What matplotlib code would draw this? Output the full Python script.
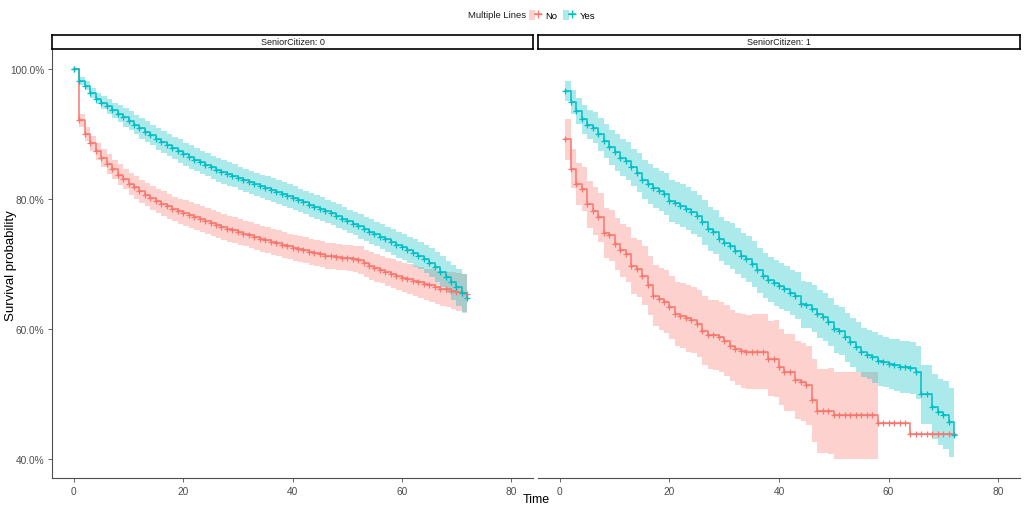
import numpy as np
import matplotlib
matplotlib.use("Agg")
import matplotlib.pyplot as plt
from matplotlib.patches import Patch
from matplotlib.lines import Line2D
from matplotlib.legend_handler import HandlerTuple
from matplotlib.ticker import FuncFormatter

plt.rcParams['font.family'] = ['Liberation Sans', 'DejaVu Sans']

# ---------------- data ----------------
legend_title = "Multiple Lines"
groups = ["No", "Yes"]
colors = {"No": "#F8766D", "Yes": "#00BFC4"}
panel_titles = ["SeniorCitizen: 0", "SeniorCitizen: 1"]
x_ticks = [0, 20, 40, 60, 80]
y_ticks = [40, 60, 80, 100]

# Panel SeniorCitizen: 0 (months 0..72)
time_s0 = list(range(0, 73))
surv_s0_yes = [100.0, 98.2, 97.5, 96.4, 95.5, 94.9, 94.3, 93.7, 93.2, 92.6,
               92.1, 91.5, 90.9, 90.4, 89.9, 89.3, 88.8, 88.3, 87.9, 87.4,
               86.9, 86.5, 86.1, 85.7, 85.3, 84.9, 84.5, 84.2, 83.9, 83.6,
               83.2, 82.9, 82.6, 82.3, 82.0, 81.7, 81.4, 81.1, 80.8, 80.5,
               80.2, 79.8, 79.5, 79.1, 78.8, 78.5, 78.1, 77.8, 77.4, 77.0,
               76.6, 76.2, 75.8, 75.4, 75.0, 74.6, 74.2, 73.8, 73.4, 73.0,
               72.6, 72.2, 71.7, 71.3, 70.8, 70.2, 69.5, 68.8, 68.0, 67.2,
               66.4, 65.5, 64.8]
ci_s0_yes = [0.0, 0.6, 0.7, 0.8, 0.9, 1.0, 1.1, 1.2, 1.3, 1.4,
             1.5, 1.5, 1.6, 1.6, 1.6, 1.7, 1.7, 1.7, 1.7, 1.8,
             1.8, 1.8, 1.8, 1.8, 1.8, 1.8, 1.8, 1.8, 1.8, 1.8,
             1.8, 1.8, 1.8, 1.8, 1.8, 1.8, 1.8, 1.8, 1.8, 1.8,
             1.8, 1.8, 1.8, 1.8, 1.8, 1.8, 1.8, 1.8, 1.8, 1.8,
             1.8, 1.8, 1.9, 1.9, 1.9, 1.9, 1.9, 1.9, 2.0, 2.0,
             2.0, 2.0, 2.1, 2.1, 2.2, 2.2, 2.3, 2.4, 2.5, 2.7,
             2.8, 2.9, 3.0]
surv_s0_no = [100.0, 92.2, 90.0, 88.6, 87.4, 86.3, 85.4, 84.6, 83.8, 83.1,
              82.4, 81.8, 81.2, 80.7, 80.2, 79.7, 79.3, 78.9, 78.5, 78.1,
              77.8, 77.5, 77.2, 76.9, 76.6, 76.3, 76.0, 75.7, 75.4, 75.2,
              74.9, 74.7, 74.4, 74.2, 73.9, 73.7, 73.4, 73.2, 72.9, 72.7,
              72.5, 72.3, 72.1, 71.9, 71.7, 71.5, 71.3, 71.2, 71.1, 71.0,
              70.9, 70.8, 70.6, 70.1, 69.7, 69.4, 69.1, 68.8, 68.5, 68.2,
              67.9, 67.7, 67.4, 67.2, 66.9, 66.7, 66.4, 66.2, 66.1, 65.9,
              65.7, 65.5, 65.4]
ci_s0_no = [0.0, 1.0, 1.1, 1.2, 1.3, 1.4, 1.5, 1.5, 1.6, 1.6,
            1.7, 1.7, 1.8, 1.8, 1.8, 1.9, 1.9, 1.9, 1.9, 2.0,
            2.0, 2.0, 2.0, 2.0, 2.0, 2.0, 2.0, 2.0, 2.0, 2.0,
            2.0, 2.0, 2.0, 2.0, 2.0, 2.0, 2.0, 2.0, 2.0, 2.0,
            2.0, 2.0, 2.0, 2.0, 2.0, 2.0, 2.0, 2.0, 2.0, 2.0,
            2.0, 2.0, 2.1, 2.1, 2.1, 2.1, 2.1, 2.2, 2.2, 2.2,
            2.2, 2.3, 2.3, 2.4, 2.4, 2.5, 2.5, 2.6, 2.7, 2.8,
            2.9, 3.0, 3.1]

# Panel SeniorCitizen: 1 (months 1..72)
time_s1 = list(range(1, 73))
surv_s1_yes = [96.7, 95.0, 93.6, 92.3, 91.5, 91.0, 90.0, 89.0, 88.0, 87.2,
               86.4, 85.9, 84.9, 84.1, 83.0, 82.3, 81.7, 81.3, 80.8, 79.7,
               79.4, 79.0, 78.5, 78.0, 77.4, 76.4, 75.4, 74.9, 73.8, 73.3,
               72.8, 72.0, 71.3, 70.8, 70.0, 69.0, 68.2, 67.6, 67.1, 66.6,
               66.2, 65.6, 65.1, 63.8, 63.7, 63.1, 62.3, 61.8, 61.0, 60.0,
               59.6, 58.7, 57.9, 57.2, 56.4, 56.0, 55.6, 55.1, 54.9, 54.6,
               54.4, 54.1, 54.1, 54.0, 53.3, 49.9, 49.9, 48.0, 47.2, 46.7,
               45.6, 43.7]
ci_s1_yes = [1.5, 1.8, 2.0, 2.2, 2.3, 2.4, 2.5, 2.6, 2.7, 2.8,
             2.8, 2.9, 2.9, 3.0, 3.0, 3.1, 3.1, 3.1, 3.2, 3.2,
             3.2, 3.3, 3.3, 3.3, 3.3, 3.4, 3.4, 3.4, 3.4, 3.4,
             3.5, 3.5, 3.5, 3.5, 3.5, 3.5, 3.5, 3.5, 3.5, 3.5,
             3.5, 3.5, 3.6, 3.6, 3.6, 3.6, 3.7, 3.7, 3.7, 3.7,
             3.7, 3.8, 3.8, 3.8, 3.8, 3.8, 3.9, 3.9, 3.9, 3.9,
             4.0, 4.0, 4.0, 4.0, 4.1, 4.6, 4.6, 5.0, 5.1, 5.2,
             5.3, 5.3]
surv_s1_no = [89.2, 84.7, 82.3, 81.6, 79.2, 78.2, 77.2, 74.8, 74.4, 73.1,
              72.1, 71.5, 69.7, 69.3, 68.2, 66.7, 65.1, 64.6, 64.2, 63.3,
              62.3, 62.0, 61.6, 61.3, 60.8, 59.7, 59.1, 59.0, 58.7, 58.2,
              57.4, 56.9, 56.6, 56.5, 56.5, 56.5, 56.5, 55.4, 55.4, 54.1,
              53.3, 53.3, 52.1, 51.8, 51.3, 49.0, 47.3, 47.3, 47.3, 46.7,
              46.7, 46.7, 46.7, 46.7, 46.7, 46.7, 46.7, 45.5, 45.5, 45.5,
              45.5, 45.5, 45.5, 43.8, 43.8, 43.8, 43.8, 43.8, 43.8, 43.8,
              43.8, 43.8]
ci_s1_no = [3.2, 3.0, 3.2, 3.4, 3.6, 3.7, 3.8, 3.9, 3.9, 4.0,
            4.1, 4.2, 4.3, 4.4, 4.5, 4.6, 4.7, 4.8, 4.8, 4.9,
            5.0, 5.0, 5.1, 5.1, 5.2, 5.3, 5.3, 5.4, 5.4, 5.5,
            5.5, 5.6, 5.7, 5.7, 5.8, 5.8, 5.8, 5.8, 5.9, 5.9,
            5.9, 5.9, 6.0, 6.0, 6.1, 6.4, 6.5, 6.5, 6.6, 6.7,
            6.7, 6.7, 6.7, 6.7, 6.7, 6.7, 6.7, 6.7,
            np.nan, np.nan, np.nan, np.nan, np.nan, np.nan, np.nan,
            np.nan, np.nan, np.nan, np.nan, np.nan, np.nan, np.nan]

panels = [
    (time_s0, {"No": (surv_s0_no, ci_s0_no), "Yes": (surv_s0_yes, ci_s0_yes)}),
    (time_s1, {"No": (surv_s1_no, ci_s1_no), "Yes": (surv_s1_yes, ci_s1_yes)}),
]

# ---------------- figure ----------------
W, H = 1024, 510
fig = plt.figure(figsize=(W / 100, H / 100), dpi=100)
fig.patch.set_facecolor("white")

def fx(px):
    return px / W

def fy(py):
    return 1 - py / H

panel_x = [(52, 533), (538, 1020)]
panel_top, panel_bot = 51, 479
strip_top, strip_bot = 35.5, 50

axes = []
for i, (x0, x1) in enumerate(panel_x):
    ax = fig.add_axes([fx(x0), fy(panel_bot), fx(x1 - x0), (panel_bot - panel_top) / H])
    axes.append(ax)
    times, series = panels[i]
    t = np.array(times, dtype=float)
    for g in groups:
        s, ci = series[g]
        s = np.array(s, dtype=float)
        ci = np.array(ci, dtype=float)
        c = colors[g]
        mask = ~np.isnan(ci)
        ax.fill_between(t[mask], (s - ci)[mask], np.minimum(s + ci, 100)[mask],
                        step="post", color=c, alpha=0.33, lw=0, zorder=1)
        ax.step(t, s, where="post", color=c, lw=1.1, zorder=3)
        ax.plot(t, s, ls="none", marker="+", ms=5, mew=0.9, color=c, zorder=4)
    ax.set_xlim(-4, 84)
    ax.set_ylim(37.0, 103.0)
    ax.set_xticks(x_ticks)
    ax.set_yticks(y_ticks)
    ax.yaxis.set_major_formatter(FuncFormatter(lambda v, p: f"{v:.1f}%"))
    for sp in ["top", "right"]:
        ax.spines[sp].set_visible(False)
    ax.spines["bottom"].set_color("#4D4D4D")
    ax.spines["left"].set_color("#4D4D4D")
    ax.spines["bottom"].set_linewidth(0.8)
    ax.spines["left"].set_linewidth(0.8)
    ax.tick_params(axis="both", labelsize=7.3, colors="#4D4D4D", labelcolor="#4D4D4D",
                   length=3, width=0.6, pad=2.5)
    if i == 1:
        ax.spines["left"].set_visible(False)
        ax.tick_params(axis="y", left=False, labelleft=False)
    # strip
    sax = fig.add_axes([fx(x0), fy(strip_bot), fx(x1 - x0), (strip_bot - strip_top) / H])
    sax.set_xticks([])
    sax.set_yticks([])
    for sp in sax.spines.values():
        sp.set_linewidth(1.2)
        sp.set_color("black")
    sax.text(0.5, 0.5, panel_titles[i], ha="center", va="center", fontsize=6.5,
             color="#1A1A1A", transform=sax.transAxes)

fig.text(fx(11), fy(266), "Survival probability", rotation=90, ha="center", va="center",
         fontsize=9.5, color="black")
fig.text(fx(536), fy(500), "Time", ha="center", va="center", fontsize=9, color="black")

# legend
fig.text(fx(526), fy(16), legend_title, ha="right", va="center", fontsize=6.8, color="#1A1A1A")
handles = []
for g in groups:
    handles.append((Patch(facecolor=colors[g], alpha=0.33, edgecolor="none"),
                    Line2D([], [], color=colors[g], lw=1.1, marker="+", ms=6, mew=0.9)))
fig.legend(handles, groups, handler_map={tuple: HandlerTuple(ndivide=None, pad=0)},
           loc="center left", bbox_to_anchor=(fx(529), fy(16)), ncol=2, frameon=False,
           fontsize=6.8, handlelength=1.3, handleheight=1.4, handletextpad=0.45,
           columnspacing=0.6, borderpad=0, borderaxespad=0)

fig.savefig("out.png", dpi=100, facecolor="white")
